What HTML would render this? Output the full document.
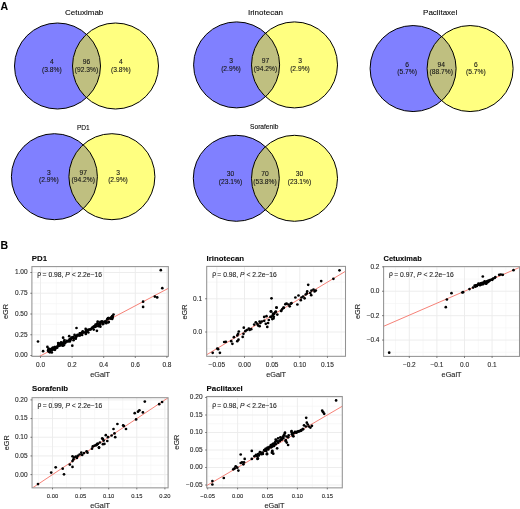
<!DOCTYPE html>
<html><head><meta charset="utf-8"><style>html,body{margin:0;padding:0;background:#fff;overflow:hidden}svg{display:block}</style></head>
<body>
<svg width="520" height="509" viewBox="0 0 520 509" font-family="Liberation Sans, Arial, Helvetica, sans-serif">
<style>text{stroke:#222;stroke-width:0.1px}</style>
<rect width="520" height="509" fill="#fff"/>
<text x="0.5" y="9.7" font-size="10.5" font-weight="bold" fill="#000">A</text>
<text x="0.5" y="249.4" font-size="10.5" font-weight="bold" fill="#000">B</text>
<clipPath id="cb1"><circle cx="57.5" cy="66" r="43"/></clipPath>
<circle cx="57.5" cy="66" r="43" fill="#8080FF"/>
<circle cx="115.5" cy="66" r="43" fill="#FFFF80"/>
<circle cx="115.5" cy="66" r="43" fill="#BFBF80" clip-path="url(#cb1)"/>
<circle cx="57.5" cy="66" r="43" fill="none" stroke="#000" stroke-width="1"/>
<circle cx="115.5" cy="66" r="43" fill="none" stroke="#000" stroke-width="1"/>
<text x="84.2" y="15.4" font-size="8.0" text-anchor="middle" fill="#000">Cetuximab</text>
<text x="51.80" y="64.00" font-size="6.7" text-anchor="middle" fill="#111">4</text>
<text x="51.80" y="71.70" font-size="6.7" text-anchor="middle" fill="#111">(3.8%)</text>
<text x="86.50" y="64.00" font-size="6.7" text-anchor="middle" fill="#111">96</text>
<text x="86.50" y="71.70" font-size="6.7" text-anchor="middle" fill="#111">(92.3%)</text>
<text x="120.80" y="64.00" font-size="6.7" text-anchor="middle" fill="#111">4</text>
<text x="120.80" y="71.70" font-size="6.7" text-anchor="middle" fill="#111">(3.8%)</text>
<clipPath id="cb2"><circle cx="236.6" cy="64.9" r="43"/></clipPath>
<circle cx="236.6" cy="64.9" r="43" fill="#8080FF"/>
<circle cx="294.5" cy="64.9" r="43" fill="#FFFF80"/>
<circle cx="294.5" cy="64.9" r="43" fill="#BFBF80" clip-path="url(#cb2)"/>
<circle cx="236.6" cy="64.9" r="43" fill="none" stroke="#000" stroke-width="1"/>
<circle cx="294.5" cy="64.9" r="43" fill="none" stroke="#000" stroke-width="1"/>
<text x="265.5" y="15.4" font-size="8.0" text-anchor="middle" fill="#000">Irinotecan</text>
<text x="231.00" y="62.90" font-size="6.7" text-anchor="middle" fill="#111">3</text>
<text x="231.00" y="70.60" font-size="6.7" text-anchor="middle" fill="#111">(2.9%)</text>
<text x="265.50" y="62.90" font-size="6.7" text-anchor="middle" fill="#111">97</text>
<text x="265.50" y="70.60" font-size="6.7" text-anchor="middle" fill="#111">(94.2%)</text>
<text x="300.00" y="62.90" font-size="6.7" text-anchor="middle" fill="#111">3</text>
<text x="300.00" y="70.60" font-size="6.7" text-anchor="middle" fill="#111">(2.9%)</text>
<clipPath id="cb3"><circle cx="413.1" cy="68.55" r="43"/></clipPath>
<circle cx="413.1" cy="68.55" r="43" fill="#8080FF"/>
<circle cx="470.1" cy="68.55" r="43" fill="#FFFF80"/>
<circle cx="470.1" cy="68.55" r="43" fill="#BFBF80" clip-path="url(#cb3)"/>
<circle cx="413.1" cy="68.55" r="43" fill="none" stroke="#000" stroke-width="1"/>
<circle cx="470.1" cy="68.55" r="43" fill="none" stroke="#000" stroke-width="1"/>
<text x="440.2" y="15.4" font-size="8.0" text-anchor="middle" fill="#000">Paclitaxel</text>
<text x="407.10" y="66.55" font-size="6.7" text-anchor="middle" fill="#111">6</text>
<text x="407.10" y="74.25" font-size="6.7" text-anchor="middle" fill="#111">(5.7%)</text>
<text x="441.30" y="66.55" font-size="6.7" text-anchor="middle" fill="#111">94</text>
<text x="441.30" y="74.25" font-size="6.7" text-anchor="middle" fill="#111">(88.7%)</text>
<text x="475.80" y="66.55" font-size="6.7" text-anchor="middle" fill="#111">6</text>
<text x="475.80" y="74.25" font-size="6.7" text-anchor="middle" fill="#111">(5.7%)</text>
<clipPath id="cb4"><circle cx="54.4" cy="176.7" r="43"/></clipPath>
<circle cx="54.4" cy="176.7" r="43" fill="#8080FF"/>
<circle cx="111.9" cy="176.7" r="43" fill="#FFFF80"/>
<circle cx="111.9" cy="176.7" r="43" fill="#BFBF80" clip-path="url(#cb4)"/>
<circle cx="54.4" cy="176.7" r="43" fill="none" stroke="#000" stroke-width="1"/>
<circle cx="111.9" cy="176.7" r="43" fill="none" stroke="#000" stroke-width="1"/>
<text x="83.3" y="130.3" font-size="6.6" text-anchor="middle" fill="#000">PD1</text>
<text x="48.80" y="174.70" font-size="6.7" text-anchor="middle" fill="#111">3</text>
<text x="48.80" y="182.40" font-size="6.7" text-anchor="middle" fill="#111">(2.9%)</text>
<text x="83.30" y="174.70" font-size="6.7" text-anchor="middle" fill="#111">97</text>
<text x="83.30" y="182.40" font-size="6.7" text-anchor="middle" fill="#111">(94.2%)</text>
<text x="118.00" y="174.70" font-size="6.7" text-anchor="middle" fill="#111">3</text>
<text x="118.00" y="182.40" font-size="6.7" text-anchor="middle" fill="#111">(2.9%)</text>
<clipPath id="cb5"><circle cx="236.3" cy="178.3" r="43"/></clipPath>
<circle cx="236.3" cy="178.3" r="43" fill="#8080FF"/>
<circle cx="294.5" cy="178.3" r="43" fill="#FFFF80"/>
<circle cx="294.5" cy="178.3" r="43" fill="#BFBF80" clip-path="url(#cb5)"/>
<circle cx="236.3" cy="178.3" r="43" fill="none" stroke="#000" stroke-width="1"/>
<circle cx="294.5" cy="178.3" r="43" fill="none" stroke="#000" stroke-width="1"/>
<text x="264.2" y="129.0" font-size="6.6" text-anchor="middle" fill="#000">Sorafenib</text>
<text x="230.50" y="176.30" font-size="6.7" text-anchor="middle" fill="#111">30</text>
<text x="230.50" y="184.00" font-size="6.7" text-anchor="middle" fill="#111">(23.1%)</text>
<text x="265.00" y="176.30" font-size="6.7" text-anchor="middle" fill="#111">70</text>
<text x="265.00" y="184.00" font-size="6.7" text-anchor="middle" fill="#111">(53.8%)</text>
<text x="299.50" y="176.30" font-size="6.7" text-anchor="middle" fill="#111">30</text>
<text x="299.50" y="184.00" font-size="6.7" text-anchor="middle" fill="#111">(23.1%)</text>
<clipPath id="pPD1"><rect x="31.9" y="266.6" width="136.45" height="89.79999999999995"/></clipPath>
<g clip-path="url(#pPD1)">
<line x1="56.30" y1="266.6" x2="56.30" y2="356.4" stroke="#F4F4F4" stroke-width="0.6"/>
<line x1="87.90" y1="266.6" x2="87.90" y2="356.4" stroke="#F4F4F4" stroke-width="0.6"/>
<line x1="119.50" y1="266.6" x2="119.50" y2="356.4" stroke="#F4F4F4" stroke-width="0.6"/>
<line x1="151.10" y1="266.6" x2="151.10" y2="356.4" stroke="#F4F4F4" stroke-width="0.6"/>
<line x1="31.9" y1="345.12" x2="168.35" y2="345.12" stroke="#F4F4F4" stroke-width="0.6"/>
<line x1="31.9" y1="324.38" x2="168.35" y2="324.38" stroke="#F4F4F4" stroke-width="0.6"/>
<line x1="31.9" y1="303.62" x2="168.35" y2="303.62" stroke="#F4F4F4" stroke-width="0.6"/>
<line x1="31.9" y1="282.88" x2="168.35" y2="282.88" stroke="#F4F4F4" stroke-width="0.6"/>
<line x1="40.50" y1="266.6" x2="40.50" y2="356.4" stroke="#EBEBEB" stroke-width="0.9"/>
<line x1="72.10" y1="266.6" x2="72.10" y2="356.4" stroke="#EBEBEB" stroke-width="0.9"/>
<line x1="103.70" y1="266.6" x2="103.70" y2="356.4" stroke="#EBEBEB" stroke-width="0.9"/>
<line x1="135.30" y1="266.6" x2="135.30" y2="356.4" stroke="#EBEBEB" stroke-width="0.9"/>
<line x1="166.90" y1="266.6" x2="166.90" y2="356.4" stroke="#EBEBEB" stroke-width="0.9"/>
<line x1="31.9" y1="355.50" x2="168.35" y2="355.50" stroke="#EBEBEB" stroke-width="0.9"/>
<line x1="31.9" y1="334.75" x2="168.35" y2="334.75" stroke="#EBEBEB" stroke-width="0.9"/>
<line x1="31.9" y1="314.00" x2="168.35" y2="314.00" stroke="#EBEBEB" stroke-width="0.9"/>
<line x1="31.9" y1="293.25" x2="168.35" y2="293.25" stroke="#EBEBEB" stroke-width="0.9"/>
<line x1="31.9" y1="272.50" x2="168.35" y2="272.50" stroke="#EBEBEB" stroke-width="0.9"/>
<line x1="26.9" y1="363.01" x2="173.35" y2="285.69" stroke="#F47A70" stroke-width="0.95"/>
<circle cx="38.00" cy="341.50" r="1.35" fill="#000"/>
<circle cx="43.10" cy="351.20" r="1.35" fill="#000"/>
<circle cx="47.40" cy="346.90" r="1.35" fill="#000"/>
<circle cx="72.30" cy="345.70" r="1.35" fill="#000"/>
<circle cx="76.50" cy="328.00" r="1.35" fill="#000"/>
<circle cx="63.10" cy="337.70" r="1.35" fill="#000"/>
<circle cx="69.20" cy="336.20" r="1.35" fill="#000"/>
<circle cx="58.20" cy="343.10" r="1.35" fill="#000"/>
<circle cx="96.90" cy="330.80" r="1.35" fill="#000"/>
<circle cx="108.50" cy="322.30" r="1.35" fill="#000"/>
<circle cx="97.70" cy="321.50" r="1.35" fill="#000"/>
<circle cx="160.80" cy="270.20" r="1.35" fill="#000"/>
<circle cx="162.30" cy="288.20" r="1.35" fill="#000"/>
<circle cx="143.10" cy="301.70" r="1.35" fill="#000"/>
<circle cx="143.10" cy="306.90" r="1.35" fill="#000"/>
<circle cx="154.90" cy="296.60" r="1.35" fill="#000"/>
<circle cx="157.20" cy="297.40" r="1.35" fill="#000"/>
<circle cx="113.50" cy="314.60" r="1.35" fill="#000"/>
<circle cx="112.30" cy="316.20" r="1.35" fill="#000"/>
<circle cx="57.19" cy="347.64" r="1.35" fill="#000"/>
<circle cx="63.99" cy="341.45" r="1.35" fill="#000"/>
<circle cx="79.78" cy="333.28" r="1.35" fill="#000"/>
<circle cx="99.74" cy="324.73" r="1.35" fill="#000"/>
<circle cx="54.95" cy="349.80" r="1.35" fill="#000"/>
<circle cx="76.38" cy="336.81" r="1.35" fill="#000"/>
<circle cx="98.36" cy="326.24" r="1.35" fill="#000"/>
<circle cx="95.24" cy="326.87" r="1.35" fill="#000"/>
<circle cx="63.80" cy="345.23" r="1.35" fill="#000"/>
<circle cx="49.67" cy="349.83" r="1.35" fill="#000"/>
<circle cx="48.63" cy="348.70" r="1.35" fill="#000"/>
<circle cx="72.57" cy="337.72" r="1.35" fill="#000"/>
<circle cx="62.01" cy="343.78" r="1.35" fill="#000"/>
<circle cx="62.49" cy="343.87" r="1.35" fill="#000"/>
<circle cx="76.26" cy="335.74" r="1.35" fill="#000"/>
<circle cx="63.04" cy="343.47" r="1.35" fill="#000"/>
<circle cx="61.89" cy="343.21" r="1.35" fill="#000"/>
<circle cx="49.49" cy="350.93" r="1.35" fill="#000"/>
<circle cx="102.00" cy="321.44" r="1.35" fill="#000"/>
<circle cx="59.88" cy="344.61" r="1.35" fill="#000"/>
<circle cx="112.68" cy="317.04" r="1.35" fill="#000"/>
<circle cx="69.49" cy="339.58" r="1.35" fill="#000"/>
<circle cx="94.96" cy="326.40" r="1.35" fill="#000"/>
<circle cx="74.56" cy="334.94" r="1.35" fill="#000"/>
<circle cx="101.96" cy="322.49" r="1.35" fill="#000"/>
<circle cx="86.13" cy="330.76" r="1.35" fill="#000"/>
<circle cx="105.83" cy="321.43" r="1.35" fill="#000"/>
<circle cx="86.13" cy="330.52" r="1.35" fill="#000"/>
<circle cx="50.28" cy="350.37" r="1.35" fill="#000"/>
<circle cx="75.78" cy="338.65" r="1.35" fill="#000"/>
<circle cx="58.60" cy="344.23" r="1.35" fill="#000"/>
<circle cx="91.98" cy="328.11" r="1.35" fill="#000"/>
<circle cx="71.93" cy="337.51" r="1.35" fill="#000"/>
<circle cx="99.08" cy="325.11" r="1.35" fill="#000"/>
<circle cx="81.66" cy="332.83" r="1.35" fill="#000"/>
<circle cx="50.25" cy="351.07" r="1.35" fill="#000"/>
<circle cx="50.46" cy="349.29" r="1.35" fill="#000"/>
<circle cx="85.65" cy="328.88" r="1.35" fill="#000"/>
<circle cx="73.89" cy="338.30" r="1.35" fill="#000"/>
<circle cx="112.35" cy="318.02" r="1.35" fill="#000"/>
<circle cx="97.44" cy="323.46" r="1.35" fill="#000"/>
<circle cx="62.90" cy="343.00" r="1.35" fill="#000"/>
<circle cx="82.11" cy="334.91" r="1.35" fill="#000"/>
<circle cx="77.81" cy="335.32" r="1.35" fill="#000"/>
<circle cx="64.46" cy="340.11" r="1.35" fill="#000"/>
<circle cx="48.04" cy="350.68" r="1.35" fill="#000"/>
<circle cx="99.63" cy="325.28" r="1.35" fill="#000"/>
<circle cx="95.55" cy="324.61" r="1.35" fill="#000"/>
<circle cx="100.22" cy="322.56" r="1.35" fill="#000"/>
<circle cx="75.73" cy="336.62" r="1.35" fill="#000"/>
<circle cx="52.05" cy="350.29" r="1.35" fill="#000"/>
<circle cx="60.59" cy="343.75" r="1.35" fill="#000"/>
<circle cx="80.58" cy="333.35" r="1.35" fill="#000"/>
<circle cx="70.57" cy="339.52" r="1.35" fill="#000"/>
<circle cx="82.79" cy="332.19" r="1.35" fill="#000"/>
<circle cx="77.50" cy="334.87" r="1.35" fill="#000"/>
<circle cx="49.86" cy="350.59" r="1.35" fill="#000"/>
<circle cx="86.51" cy="332.02" r="1.35" fill="#000"/>
<circle cx="104.39" cy="322.11" r="1.35" fill="#000"/>
<circle cx="100.48" cy="321.93" r="1.35" fill="#000"/>
<circle cx="64.99" cy="343.29" r="1.35" fill="#000"/>
<circle cx="52.86" cy="347.55" r="1.35" fill="#000"/>
<circle cx="49.84" cy="352.32" r="1.35" fill="#000"/>
<circle cx="64.32" cy="342.94" r="1.35" fill="#000"/>
<circle cx="54.84" cy="347.14" r="1.35" fill="#000"/>
<circle cx="52.24" cy="348.53" r="1.35" fill="#000"/>
<circle cx="58.13" cy="345.44" r="1.35" fill="#000"/>
<circle cx="65.72" cy="341.91" r="1.35" fill="#000"/>
<circle cx="94.20" cy="326.54" r="1.35" fill="#000"/>
<circle cx="79.04" cy="335.38" r="1.35" fill="#000"/>
<circle cx="49.18" cy="350.01" r="1.35" fill="#000"/>
<circle cx="60.55" cy="345.52" r="1.35" fill="#000"/>
<circle cx="55.51" cy="348.52" r="1.35" fill="#000"/>
<circle cx="61.30" cy="343.63" r="1.35" fill="#000"/>
<circle cx="87.68" cy="330.87" r="1.35" fill="#000"/>
<circle cx="49.08" cy="350.72" r="1.35" fill="#000"/>
<circle cx="57.49" cy="346.30" r="1.35" fill="#000"/>
<circle cx="93.88" cy="327.02" r="1.35" fill="#000"/>
<circle cx="92.14" cy="327.81" r="1.35" fill="#000"/>
<circle cx="111.35" cy="317.25" r="1.35" fill="#000"/>
<circle cx="99.76" cy="323.44" r="1.35" fill="#000"/>
<circle cx="90.44" cy="329.31" r="1.35" fill="#000"/>
<circle cx="73.40" cy="337.12" r="1.35" fill="#000"/>
<circle cx="89.14" cy="329.61" r="1.35" fill="#000"/>
<circle cx="51.47" cy="348.79" r="1.35" fill="#000"/>
<circle cx="106.26" cy="323.18" r="1.35" fill="#000"/>
<circle cx="68.19" cy="341.28" r="1.35" fill="#000"/>
<circle cx="108.81" cy="318.21" r="1.35" fill="#000"/>
<circle cx="96.34" cy="325.49" r="1.35" fill="#000"/>
<circle cx="48.72" cy="351.53" r="1.35" fill="#000"/>
<circle cx="106.12" cy="322.49" r="1.35" fill="#000"/>
<circle cx="110.80" cy="318.26" r="1.35" fill="#000"/>
<circle cx="85.71" cy="332.78" r="1.35" fill="#000"/>
<circle cx="112.18" cy="318.93" r="1.35" fill="#000"/>
<circle cx="93.65" cy="326.71" r="1.35" fill="#000"/>
<circle cx="70.57" cy="339.37" r="1.35" fill="#000"/>
<circle cx="61.18" cy="343.92" r="1.35" fill="#000"/>
<circle cx="60.22" cy="343.95" r="1.35" fill="#000"/>
<circle cx="54.61" cy="347.51" r="1.35" fill="#000"/>
<circle cx="80.35" cy="333.69" r="1.35" fill="#000"/>
<circle cx="69.85" cy="341.41" r="1.35" fill="#000"/>
<circle cx="48.48" cy="349.57" r="1.35" fill="#000"/>
<circle cx="60.46" cy="343.34" r="1.35" fill="#000"/>
<circle cx="100.39" cy="326.72" r="1.35" fill="#000"/>
<circle cx="70.23" cy="339.98" r="1.35" fill="#000"/>
<circle cx="103.35" cy="323.74" r="1.35" fill="#000"/>
<circle cx="108.12" cy="318.08" r="1.35" fill="#000"/>
<circle cx="93.75" cy="329.55" r="1.35" fill="#000"/>
<circle cx="79.96" cy="335.43" r="1.35" fill="#000"/>
<circle cx="95.46" cy="326.66" r="1.35" fill="#000"/>
<circle cx="53.99" cy="349.44" r="1.35" fill="#000"/>
<circle cx="62.73" cy="345.69" r="1.35" fill="#000"/>
<circle cx="96.89" cy="324.19" r="1.35" fill="#000"/>
<circle cx="71.46" cy="337.73" r="1.35" fill="#000"/>
<circle cx="69.93" cy="339.21" r="1.35" fill="#000"/>
<circle cx="88.36" cy="332.50" r="1.35" fill="#000"/>
<circle cx="110.28" cy="318.54" r="1.35" fill="#000"/>
<circle cx="83.90" cy="332.30" r="1.35" fill="#000"/>
<circle cx="54.96" cy="348.18" r="1.35" fill="#000"/>
<circle cx="104.51" cy="321.56" r="1.35" fill="#000"/>
<circle cx="99.69" cy="324.74" r="1.35" fill="#000"/>
<circle cx="87.93" cy="329.80" r="1.35" fill="#000"/>
<circle cx="98.64" cy="323.85" r="1.35" fill="#000"/>
<circle cx="62.97" cy="344.46" r="1.35" fill="#000"/>
<circle cx="53.22" cy="348.47" r="1.35" fill="#000"/>
<circle cx="85.81" cy="333.94" r="1.35" fill="#000"/>
<circle cx="107.85" cy="318.65" r="1.35" fill="#000"/>
<circle cx="99.52" cy="324.60" r="1.35" fill="#000"/>
<circle cx="102.72" cy="324.13" r="1.35" fill="#000"/>
<circle cx="54.02" cy="348.40" r="1.35" fill="#000"/>
<circle cx="55.59" cy="347.67" r="1.35" fill="#000"/>
<circle cx="63.52" cy="342.99" r="1.35" fill="#000"/>
<circle cx="112.04" cy="316.58" r="1.35" fill="#000"/>
<circle cx="59.00" cy="345.87" r="1.35" fill="#000"/>
<circle cx="63.71" cy="343.08" r="1.35" fill="#000"/>
<circle cx="107.09" cy="319.44" r="1.35" fill="#000"/>
<circle cx="73.55" cy="340.16" r="1.35" fill="#000"/>
<circle cx="66.96" cy="340.92" r="1.35" fill="#000"/>
<circle cx="64.30" cy="342.29" r="1.35" fill="#000"/>
<circle cx="90.73" cy="329.31" r="1.35" fill="#000"/>
<circle cx="51.85" cy="352.50" r="1.35" fill="#000"/>
<circle cx="67.33" cy="341.36" r="1.35" fill="#000"/>
<circle cx="86.69" cy="330.40" r="1.35" fill="#000"/>
<circle cx="52.22" cy="349.53" r="1.35" fill="#000"/>
<circle cx="108.72" cy="321.85" r="1.35" fill="#000"/>
<circle cx="55.03" cy="347.20" r="1.35" fill="#000"/>
<circle cx="61.09" cy="342.27" r="1.35" fill="#000"/>
<circle cx="82.70" cy="331.27" r="1.35" fill="#000"/>
<circle cx="92.91" cy="327.71" r="1.35" fill="#000"/>
<circle cx="83.13" cy="332.36" r="1.35" fill="#000"/>
</g>
<rect x="31.9" y="266.6" width="136.45" height="89.79999999999995" fill="none" stroke="#939393" stroke-width="1.05"/>
<line x1="40.50" y1="356.4" x2="40.50" y2="358.0" stroke="#333" stroke-width="0.6"/>
<text x="40.50" y="367.20" font-size="6.5" text-anchor="middle" fill="#262626">0.0</text>
<line x1="72.10" y1="356.4" x2="72.10" y2="358.0" stroke="#333" stroke-width="0.6"/>
<text x="72.10" y="367.20" font-size="6.5" text-anchor="middle" fill="#262626">0.2</text>
<line x1="103.70" y1="356.4" x2="103.70" y2="358.0" stroke="#333" stroke-width="0.6"/>
<text x="103.70" y="367.20" font-size="6.5" text-anchor="middle" fill="#262626">0.4</text>
<line x1="135.30" y1="356.4" x2="135.30" y2="358.0" stroke="#333" stroke-width="0.6"/>
<text x="135.30" y="367.20" font-size="6.5" text-anchor="middle" fill="#262626">0.6</text>
<line x1="166.90" y1="356.4" x2="166.90" y2="358.0" stroke="#333" stroke-width="0.6"/>
<text x="166.90" y="367.20" font-size="6.5" text-anchor="middle" fill="#262626">0.8</text>
<line x1="30.299999999999997" y1="355.50" x2="31.9" y2="355.50" stroke="#333" stroke-width="0.6"/>
<text x="27.60" y="357.40" font-size="6.5" text-anchor="end" fill="#262626">0.00</text>
<line x1="30.299999999999997" y1="334.75" x2="31.9" y2="334.75" stroke="#333" stroke-width="0.6"/>
<text x="27.60" y="336.65" font-size="6.5" text-anchor="end" fill="#262626">0.25</text>
<line x1="30.299999999999997" y1="314.00" x2="31.9" y2="314.00" stroke="#333" stroke-width="0.6"/>
<text x="27.60" y="315.90" font-size="6.5" text-anchor="end" fill="#262626">0.50</text>
<line x1="30.299999999999997" y1="293.25" x2="31.9" y2="293.25" stroke="#333" stroke-width="0.6"/>
<text x="27.60" y="295.15" font-size="6.5" text-anchor="end" fill="#262626">0.75</text>
<line x1="30.299999999999997" y1="272.50" x2="31.9" y2="272.50" stroke="#333" stroke-width="0.6"/>
<text x="27.60" y="274.40" font-size="6.5" text-anchor="end" fill="#262626">1.00</text>
<text x="100.12" y="376.80" font-size="7.3" text-anchor="middle" fill="#1a1a1a">eGalT</text>
<text transform="translate(8.4,311.50) rotate(-90)" font-size="7.3" text-anchor="middle" fill="#1a1a1a">eGR</text>
<text x="31.799999999999997" y="260.5" font-size="7.85" font-weight="bold" fill="#000">PD1</text>
<text x="36.15" y="277.3" font-size="6.75" fill="#1a1a1a"><tspan dx="1.2" dy="-1.1">ρ</tspan><tspan dx="-0.5" dy="1.1"> = 0.98, </tspan><tspan font-style="italic">P</tspan> &lt; 2.2e−16</text>
<clipPath id="pIrinotecan"><rect x="206.7" y="266.4" width="138.8" height="89.90000000000003"/></clipPath>
<g clip-path="url(#pIrinotecan)">
<line x1="203.03" y1="266.4" x2="203.03" y2="356.3" stroke="#F4F4F4" stroke-width="0.6"/>
<line x1="230.68" y1="266.4" x2="230.68" y2="356.3" stroke="#F4F4F4" stroke-width="0.6"/>
<line x1="258.32" y1="266.4" x2="258.32" y2="356.3" stroke="#F4F4F4" stroke-width="0.6"/>
<line x1="285.98" y1="266.4" x2="285.98" y2="356.3" stroke="#F4F4F4" stroke-width="0.6"/>
<line x1="313.62" y1="266.4" x2="313.62" y2="356.3" stroke="#F4F4F4" stroke-width="0.6"/>
<line x1="341.27" y1="266.4" x2="341.27" y2="356.3" stroke="#F4F4F4" stroke-width="0.6"/>
<line x1="206.7" y1="348.62" x2="345.5" y2="348.62" stroke="#F4F4F4" stroke-width="0.6"/>
<line x1="206.7" y1="315.38" x2="345.5" y2="315.38" stroke="#F4F4F4" stroke-width="0.6"/>
<line x1="206.7" y1="282.12" x2="345.5" y2="282.12" stroke="#F4F4F4" stroke-width="0.6"/>
<line x1="216.85" y1="266.4" x2="216.85" y2="356.3" stroke="#EBEBEB" stroke-width="0.9"/>
<line x1="244.50" y1="266.4" x2="244.50" y2="356.3" stroke="#EBEBEB" stroke-width="0.9"/>
<line x1="272.15" y1="266.4" x2="272.15" y2="356.3" stroke="#EBEBEB" stroke-width="0.9"/>
<line x1="299.80" y1="266.4" x2="299.80" y2="356.3" stroke="#EBEBEB" stroke-width="0.9"/>
<line x1="327.45" y1="266.4" x2="327.45" y2="356.3" stroke="#EBEBEB" stroke-width="0.9"/>
<line x1="206.7" y1="332.00" x2="345.5" y2="332.00" stroke="#EBEBEB" stroke-width="0.9"/>
<line x1="206.7" y1="298.75" x2="345.5" y2="298.75" stroke="#EBEBEB" stroke-width="0.9"/>
<line x1="201.7" y1="357.73" x2="350.5" y2="268.27" stroke="#F47A70" stroke-width="0.95"/>
<circle cx="212.70" cy="352.80" r="1.35" fill="#000"/>
<circle cx="217.30" cy="348.50" r="1.35" fill="#000"/>
<circle cx="218.10" cy="349.20" r="1.35" fill="#000"/>
<circle cx="219.90" cy="352.80" r="1.35" fill="#000"/>
<circle cx="224.20" cy="342.00" r="1.35" fill="#000"/>
<circle cx="225.80" cy="341.80" r="1.35" fill="#000"/>
<circle cx="231.20" cy="341.20" r="1.35" fill="#000"/>
<circle cx="232.40" cy="343.80" r="1.35" fill="#000"/>
<circle cx="233.90" cy="337.20" r="1.35" fill="#000"/>
<circle cx="237.30" cy="335.40" r="1.35" fill="#000"/>
<circle cx="238.10" cy="333.80" r="1.35" fill="#000"/>
<circle cx="238.80" cy="331.50" r="1.35" fill="#000"/>
<circle cx="237.30" cy="341.20" r="1.35" fill="#000"/>
<circle cx="238.50" cy="339.70" r="1.35" fill="#000"/>
<circle cx="242.70" cy="336.90" r="1.35" fill="#000"/>
<circle cx="243.50" cy="333.80" r="1.35" fill="#000"/>
<circle cx="243.80" cy="327.70" r="1.35" fill="#000"/>
<circle cx="245.30" cy="331.20" r="1.35" fill="#000"/>
<circle cx="246.80" cy="330.00" r="1.35" fill="#000"/>
<circle cx="248.80" cy="328.50" r="1.35" fill="#000"/>
<circle cx="249.60" cy="330.00" r="1.35" fill="#000"/>
<circle cx="251.20" cy="329.20" r="1.35" fill="#000"/>
<circle cx="254.20" cy="324.60" r="1.35" fill="#000"/>
<circle cx="255.80" cy="322.30" r="1.35" fill="#000"/>
<circle cx="257.30" cy="323.80" r="1.35" fill="#000"/>
<circle cx="258.10" cy="325.40" r="1.35" fill="#000"/>
<circle cx="259.60" cy="321.50" r="1.35" fill="#000"/>
<circle cx="260.40" cy="323.00" r="1.35" fill="#000"/>
<circle cx="259.60" cy="326.20" r="1.35" fill="#000"/>
<circle cx="261.90" cy="321.50" r="1.35" fill="#000"/>
<circle cx="264.20" cy="320.80" r="1.35" fill="#000"/>
<circle cx="264.20" cy="316.90" r="1.35" fill="#000"/>
<circle cx="266.50" cy="316.20" r="1.35" fill="#000"/>
<circle cx="265.80" cy="323.80" r="1.35" fill="#000"/>
<circle cx="268.10" cy="323.00" r="1.35" fill="#000"/>
<circle cx="267.30" cy="326.90" r="1.35" fill="#000"/>
<circle cx="268.80" cy="320.00" r="1.35" fill="#000"/>
<circle cx="270.40" cy="316.90" r="1.35" fill="#000"/>
<circle cx="271.20" cy="311.50" r="1.35" fill="#000"/>
<circle cx="272.70" cy="315.40" r="1.35" fill="#000"/>
<circle cx="273.50" cy="318.50" r="1.35" fill="#000"/>
<circle cx="274.20" cy="313.80" r="1.35" fill="#000"/>
<circle cx="275.80" cy="311.50" r="1.35" fill="#000"/>
<circle cx="276.50" cy="307.70" r="1.35" fill="#000"/>
<circle cx="277.30" cy="314.60" r="1.35" fill="#000"/>
<circle cx="281.20" cy="310.80" r="1.35" fill="#000"/>
<circle cx="283.50" cy="307.70" r="1.35" fill="#000"/>
<circle cx="339.50" cy="270.30" r="1.35" fill="#000"/>
<circle cx="333.40" cy="278.80" r="1.35" fill="#000"/>
<circle cx="321.20" cy="281.10" r="1.35" fill="#000"/>
<circle cx="308.20" cy="284.80" r="1.35" fill="#000"/>
<circle cx="271.50" cy="298.30" r="1.35" fill="#000"/>
<circle cx="295.40" cy="297.50" r="1.35" fill="#000"/>
<circle cx="298.50" cy="295.50" r="1.35" fill="#000"/>
<circle cx="297.40" cy="304.50" r="1.35" fill="#000"/>
<circle cx="300.80" cy="300.20" r="1.35" fill="#000"/>
<circle cx="301.50" cy="297.50" r="1.35" fill="#000"/>
<circle cx="303.10" cy="296.50" r="1.35" fill="#000"/>
<circle cx="304.60" cy="298.30" r="1.35" fill="#000"/>
<circle cx="305.70" cy="294.50" r="1.35" fill="#000"/>
<circle cx="306.90" cy="293.40" r="1.35" fill="#000"/>
<circle cx="307.20" cy="291.40" r="1.35" fill="#000"/>
<circle cx="310.30" cy="292.90" r="1.35" fill="#000"/>
<circle cx="311.20" cy="295.20" r="1.35" fill="#000"/>
<circle cx="311.50" cy="290.60" r="1.35" fill="#000"/>
<circle cx="313.50" cy="289.50" r="1.35" fill="#000"/>
<circle cx="314.60" cy="291.40" r="1.35" fill="#000"/>
<circle cx="315.80" cy="290.60" r="1.35" fill="#000"/>
<circle cx="285.40" cy="304.20" r="1.35" fill="#000"/>
<circle cx="286.60" cy="303.70" r="1.35" fill="#000"/>
<circle cx="288.50" cy="304.50" r="1.35" fill="#000"/>
<circle cx="289.70" cy="306.30" r="1.35" fill="#000"/>
<circle cx="290.80" cy="303.70" r="1.35" fill="#000"/>
<circle cx="291.50" cy="303.20" r="1.35" fill="#000"/>
<circle cx="283.80" cy="307.80" r="1.35" fill="#000"/>
<circle cx="282.30" cy="309.10" r="1.35" fill="#000"/>
<circle cx="281.10" cy="310.90" r="1.35" fill="#000"/>
<circle cx="276.50" cy="307.50" r="1.35" fill="#000"/>
<circle cx="275.40" cy="312.20" r="1.35" fill="#000"/>
<circle cx="273.10" cy="313.70" r="1.35" fill="#000"/>
<circle cx="271.50" cy="316.80" r="1.35" fill="#000"/>
<circle cx="270.80" cy="311.40" r="1.35" fill="#000"/>
<circle cx="272.30" cy="319.10" r="1.35" fill="#000"/>
<circle cx="273.80" cy="316.80" r="1.35" fill="#000"/>
</g>
<rect x="206.7" y="266.4" width="138.8" height="89.90000000000003" fill="none" stroke="#939393" stroke-width="1.05"/>
<line x1="216.85" y1="356.3" x2="216.85" y2="357.90000000000003" stroke="#333" stroke-width="0.6"/>
<text x="216.85" y="367.10" font-size="6.5" text-anchor="middle" fill="#262626">−0.05</text>
<line x1="244.50" y1="356.3" x2="244.50" y2="357.90000000000003" stroke="#333" stroke-width="0.6"/>
<text x="244.50" y="367.10" font-size="6.5" text-anchor="middle" fill="#262626">0.00</text>
<line x1="272.15" y1="356.3" x2="272.15" y2="357.90000000000003" stroke="#333" stroke-width="0.6"/>
<text x="272.15" y="367.10" font-size="6.5" text-anchor="middle" fill="#262626">0.05</text>
<line x1="299.80" y1="356.3" x2="299.80" y2="357.90000000000003" stroke="#333" stroke-width="0.6"/>
<text x="299.80" y="367.10" font-size="6.5" text-anchor="middle" fill="#262626">0.10</text>
<line x1="327.45" y1="356.3" x2="327.45" y2="357.90000000000003" stroke="#333" stroke-width="0.6"/>
<text x="327.45" y="367.10" font-size="6.5" text-anchor="middle" fill="#262626">0.15</text>
<line x1="205.1" y1="332.00" x2="206.7" y2="332.00" stroke="#333" stroke-width="0.6"/>
<text x="202.10" y="333.90" font-size="6.5" text-anchor="end" fill="#262626">0.0</text>
<line x1="205.1" y1="298.75" x2="206.7" y2="298.75" stroke="#333" stroke-width="0.6"/>
<text x="202.10" y="300.65" font-size="6.5" text-anchor="end" fill="#262626">0.1</text>
<text x="276.10" y="376.70" font-size="7.3" text-anchor="middle" fill="#1a1a1a">eGalT</text>
<text transform="translate(187.0,311.95) rotate(-90)" font-size="7.3" text-anchor="middle" fill="#1a1a1a">eGR</text>
<text x="206.6" y="260.5" font-size="7.85" font-weight="bold" fill="#000">Irinotecan</text>
<text x="210.95" y="277.3" font-size="6.75" fill="#1a1a1a"><tspan dx="1.2" dy="-1.1">ρ</tspan><tspan dx="-0.5" dy="1.1"> = 0.98, </tspan><tspan font-style="italic">P</tspan> &lt; 2.2e−16</text>
<clipPath id="pCetuximab"><rect x="383.6" y="266.6" width="135.89999999999998" height="89.79999999999995"/></clipPath>
<g clip-path="url(#pCetuximab)">
<line x1="395.50" y1="266.6" x2="395.50" y2="356.4" stroke="#F4F4F4" stroke-width="0.6"/>
<line x1="423.10" y1="266.6" x2="423.10" y2="356.4" stroke="#F4F4F4" stroke-width="0.6"/>
<line x1="450.70" y1="266.6" x2="450.70" y2="356.4" stroke="#F4F4F4" stroke-width="0.6"/>
<line x1="478.30" y1="266.6" x2="478.30" y2="356.4" stroke="#F4F4F4" stroke-width="0.6"/>
<line x1="505.90" y1="266.6" x2="505.90" y2="356.4" stroke="#F4F4F4" stroke-width="0.6"/>
<line x1="383.6" y1="352.25" x2="519.5" y2="352.25" stroke="#F4F4F4" stroke-width="0.6"/>
<line x1="383.6" y1="327.85" x2="519.5" y2="327.85" stroke="#F4F4F4" stroke-width="0.6"/>
<line x1="383.6" y1="303.45" x2="519.5" y2="303.45" stroke="#F4F4F4" stroke-width="0.6"/>
<line x1="383.6" y1="279.05" x2="519.5" y2="279.05" stroke="#F4F4F4" stroke-width="0.6"/>
<line x1="409.30" y1="266.6" x2="409.30" y2="356.4" stroke="#EBEBEB" stroke-width="0.9"/>
<line x1="436.90" y1="266.6" x2="436.90" y2="356.4" stroke="#EBEBEB" stroke-width="0.9"/>
<line x1="464.50" y1="266.6" x2="464.50" y2="356.4" stroke="#EBEBEB" stroke-width="0.9"/>
<line x1="492.10" y1="266.6" x2="492.10" y2="356.4" stroke="#EBEBEB" stroke-width="0.9"/>
<line x1="383.6" y1="340.05" x2="519.5" y2="340.05" stroke="#EBEBEB" stroke-width="0.9"/>
<line x1="383.6" y1="315.65" x2="519.5" y2="315.65" stroke="#EBEBEB" stroke-width="0.9"/>
<line x1="383.6" y1="291.25" x2="519.5" y2="291.25" stroke="#EBEBEB" stroke-width="0.9"/>
<line x1="383.6" y1="266.85" x2="519.5" y2="266.85" stroke="#EBEBEB" stroke-width="0.9"/>
<line x1="378.6" y1="328.46" x2="524.5" y2="265.26" stroke="#F47A70" stroke-width="0.95"/>
<circle cx="513.50" cy="270.20" r="1.35" fill="#000"/>
<circle cx="499.20" cy="274.80" r="1.35" fill="#000"/>
<circle cx="500.80" cy="274.50" r="1.35" fill="#000"/>
<circle cx="502.80" cy="274.80" r="1.35" fill="#000"/>
<circle cx="482.80" cy="276.50" r="1.35" fill="#000"/>
<circle cx="462.30" cy="292.50" r="1.35" fill="#000"/>
<circle cx="463.10" cy="292.20" r="1.35" fill="#000"/>
<circle cx="451.50" cy="293.20" r="1.35" fill="#000"/>
<circle cx="446.90" cy="299.50" r="1.35" fill="#000"/>
<circle cx="445.80" cy="307.20" r="1.35" fill="#000"/>
<circle cx="469.50" cy="289.10" r="1.35" fill="#000"/>
<circle cx="389.20" cy="352.70" r="1.35" fill="#000"/>
<circle cx="473.08" cy="287.54" r="1.35" fill="#000"/>
<circle cx="474.62" cy="285.69" r="1.35" fill="#000"/>
<circle cx="476.15" cy="285.23" r="1.35" fill="#000"/>
<circle cx="477.69" cy="284.77" r="1.35" fill="#000"/>
<circle cx="479.23" cy="284.15" r="1.35" fill="#000"/>
<circle cx="480.77" cy="283.23" r="1.35" fill="#000"/>
<circle cx="482.31" cy="282.92" r="1.35" fill="#000"/>
<circle cx="483.85" cy="282.62" r="1.35" fill="#000"/>
<circle cx="485.38" cy="282.15" r="1.35" fill="#000"/>
<circle cx="486.92" cy="281.38" r="1.35" fill="#000"/>
<circle cx="488.46" cy="280.62" r="1.35" fill="#000"/>
<circle cx="490.00" cy="280.15" r="1.35" fill="#000"/>
<circle cx="491.54" cy="279.54" r="1.35" fill="#000"/>
<circle cx="493.08" cy="278.62" r="1.35" fill="#000"/>
<circle cx="494.62" cy="278.00" r="1.35" fill="#000"/>
<circle cx="495.38" cy="277.08" r="1.35" fill="#000"/>
<circle cx="476.92" cy="286.00" r="1.35" fill="#000"/>
<circle cx="480.00" cy="285.23" r="1.35" fill="#000"/>
<circle cx="483.08" cy="284.15" r="1.35" fill="#000"/>
<circle cx="486.15" cy="283.23" r="1.35" fill="#000"/>
<circle cx="484.62" cy="281.38" r="1.35" fill="#000"/>
<circle cx="487.69" cy="282.15" r="1.35" fill="#000"/>
<circle cx="481.54" cy="284.46" r="1.35" fill="#000"/>
<circle cx="478.46" cy="283.69" r="1.35" fill="#000"/>
<circle cx="475.38" cy="286.77" r="1.35" fill="#000"/>
<circle cx="489.23" cy="281.08" r="1.35" fill="#000"/>
<circle cx="492.31" cy="279.85" r="1.35" fill="#000"/>
<circle cx="486.15" cy="283.69" r="1.35" fill="#000"/>
<circle cx="480.31" cy="284.15" r="1.35" fill="#000"/>
<circle cx="483.38" cy="283.23" r="1.35" fill="#000"/>
<circle cx="484.92" cy="282.92" r="1.35" fill="#000"/>
<circle cx="481.85" cy="283.85" r="1.35" fill="#000"/>
<circle cx="478.77" cy="284.77" r="1.35" fill="#000"/>
<circle cx="488.00" cy="281.38" r="1.35" fill="#000"/>
<circle cx="475.69" cy="285.69" r="1.35" fill="#000"/>
</g>
<rect x="383.6" y="266.6" width="135.89999999999998" height="89.79999999999995" fill="none" stroke="#939393" stroke-width="1.05"/>
<line x1="409.30" y1="356.4" x2="409.30" y2="358.0" stroke="#333" stroke-width="0.6"/>
<text x="409.30" y="367.20" font-size="6.5" text-anchor="middle" fill="#262626">−0.2</text>
<line x1="436.90" y1="356.4" x2="436.90" y2="358.0" stroke="#333" stroke-width="0.6"/>
<text x="436.90" y="367.20" font-size="6.5" text-anchor="middle" fill="#262626">−0.1</text>
<line x1="464.50" y1="356.4" x2="464.50" y2="358.0" stroke="#333" stroke-width="0.6"/>
<text x="464.50" y="367.20" font-size="6.5" text-anchor="middle" fill="#262626">0.0</text>
<line x1="492.10" y1="356.4" x2="492.10" y2="358.0" stroke="#333" stroke-width="0.6"/>
<text x="492.10" y="367.20" font-size="6.5" text-anchor="middle" fill="#262626">0.1</text>
<line x1="382.0" y1="340.05" x2="383.6" y2="340.05" stroke="#333" stroke-width="0.6"/>
<text x="379.50" y="341.95" font-size="6.5" text-anchor="end" fill="#262626">−0.4</text>
<line x1="382.0" y1="315.65" x2="383.6" y2="315.65" stroke="#333" stroke-width="0.6"/>
<text x="379.50" y="317.55" font-size="6.5" text-anchor="end" fill="#262626">−0.2</text>
<line x1="382.0" y1="291.25" x2="383.6" y2="291.25" stroke="#333" stroke-width="0.6"/>
<text x="379.50" y="293.15" font-size="6.5" text-anchor="end" fill="#262626">0.0</text>
<line x1="382.0" y1="266.85" x2="383.6" y2="266.85" stroke="#333" stroke-width="0.6"/>
<text x="379.50" y="268.75" font-size="6.5" text-anchor="end" fill="#262626">0.2</text>
<text x="451.55" y="376.80" font-size="7.3" text-anchor="middle" fill="#1a1a1a">eGalT</text>
<text transform="translate(359.7,311.50) rotate(-90)" font-size="7.3" text-anchor="middle" fill="#1a1a1a">eGR</text>
<text x="383.5" y="260.5" font-size="7.85" font-weight="bold" fill="#000" textLength="38.2" lengthAdjust="spacingAndGlyphs">Cetuximab</text>
<text x="387.85" y="277.3" font-size="6.75" fill="#1a1a1a"><tspan dx="1.2" dy="-1.1">ρ</tspan><tspan dx="-0.5" dy="1.1"> = 0.97, </tspan><tspan font-style="italic">P</tspan> &lt; 2.2e−16</text>
<clipPath id="pSorafenib"><rect x="32.05" y="397.7" width="136.05" height="90.15000000000003"/></clipPath>
<g clip-path="url(#pSorafenib)">
<line x1="38.45" y1="397.7" x2="38.45" y2="487.85" stroke="#F4F4F4" stroke-width="0.6"/>
<line x1="66.55" y1="397.7" x2="66.55" y2="487.85" stroke="#F4F4F4" stroke-width="0.6"/>
<line x1="94.65" y1="397.7" x2="94.65" y2="487.85" stroke="#F4F4F4" stroke-width="0.6"/>
<line x1="122.75" y1="397.7" x2="122.75" y2="487.85" stroke="#F4F4F4" stroke-width="0.6"/>
<line x1="150.85" y1="397.7" x2="150.85" y2="487.85" stroke="#F4F4F4" stroke-width="0.6"/>
<line x1="32.05" y1="483.94" x2="168.1" y2="483.94" stroke="#F4F4F4" stroke-width="0.6"/>
<line x1="32.05" y1="465.26" x2="168.1" y2="465.26" stroke="#F4F4F4" stroke-width="0.6"/>
<line x1="32.05" y1="446.59" x2="168.1" y2="446.59" stroke="#F4F4F4" stroke-width="0.6"/>
<line x1="32.05" y1="427.91" x2="168.1" y2="427.91" stroke="#F4F4F4" stroke-width="0.6"/>
<line x1="32.05" y1="409.24" x2="168.1" y2="409.24" stroke="#F4F4F4" stroke-width="0.6"/>
<line x1="52.50" y1="397.7" x2="52.50" y2="487.85" stroke="#EBEBEB" stroke-width="0.9"/>
<line x1="80.60" y1="397.7" x2="80.60" y2="487.85" stroke="#EBEBEB" stroke-width="0.9"/>
<line x1="108.70" y1="397.7" x2="108.70" y2="487.85" stroke="#EBEBEB" stroke-width="0.9"/>
<line x1="136.80" y1="397.7" x2="136.80" y2="487.85" stroke="#EBEBEB" stroke-width="0.9"/>
<line x1="164.90" y1="397.7" x2="164.90" y2="487.85" stroke="#EBEBEB" stroke-width="0.9"/>
<line x1="32.05" y1="474.60" x2="168.1" y2="474.60" stroke="#EBEBEB" stroke-width="0.9"/>
<line x1="32.05" y1="455.93" x2="168.1" y2="455.93" stroke="#EBEBEB" stroke-width="0.9"/>
<line x1="32.05" y1="437.25" x2="168.1" y2="437.25" stroke="#EBEBEB" stroke-width="0.9"/>
<line x1="32.05" y1="418.58" x2="168.1" y2="418.58" stroke="#EBEBEB" stroke-width="0.9"/>
<line x1="32.05" y1="399.90" x2="168.1" y2="399.90" stroke="#EBEBEB" stroke-width="0.9"/>
<line x1="27.049999999999997" y1="491.51" x2="173.1" y2="394.45" stroke="#F47A70" stroke-width="0.95"/>
<circle cx="38.00" cy="484.10" r="1.35" fill="#000"/>
<circle cx="51.20" cy="472.60" r="1.35" fill="#000"/>
<circle cx="55.70" cy="467.30" r="1.35" fill="#000"/>
<circle cx="62.70" cy="468.70" r="1.35" fill="#000"/>
<circle cx="64.00" cy="474.30" r="1.35" fill="#000"/>
<circle cx="69.80" cy="464.60" r="1.35" fill="#000"/>
<circle cx="72.50" cy="466.90" r="1.35" fill="#000"/>
<circle cx="72.50" cy="461.10" r="1.35" fill="#000"/>
<circle cx="73.40" cy="459.30" r="1.35" fill="#000"/>
<circle cx="72.50" cy="456.30" r="1.35" fill="#000"/>
<circle cx="74.20" cy="457.50" r="1.35" fill="#000"/>
<circle cx="75.70" cy="456.60" r="1.35" fill="#000"/>
<circle cx="76.90" cy="458.00" r="1.35" fill="#000"/>
<circle cx="77.80" cy="455.80" r="1.35" fill="#000"/>
<circle cx="79.60" cy="454.50" r="1.35" fill="#000"/>
<circle cx="81.30" cy="452.70" r="1.35" fill="#000"/>
<circle cx="82.20" cy="454.90" r="1.35" fill="#000"/>
<circle cx="84.00" cy="453.10" r="1.35" fill="#000"/>
<circle cx="86.60" cy="451.30" r="1.35" fill="#000"/>
<circle cx="87.50" cy="452.70" r="1.35" fill="#000"/>
<circle cx="92.00" cy="448.70" r="1.35" fill="#000"/>
<circle cx="92.80" cy="446.40" r="1.35" fill="#000"/>
<circle cx="94.60" cy="445.70" r="1.35" fill="#000"/>
<circle cx="96.40" cy="445.10" r="1.35" fill="#000"/>
<circle cx="97.30" cy="443.90" r="1.35" fill="#000"/>
<circle cx="99.00" cy="447.40" r="1.35" fill="#000"/>
<circle cx="99.90" cy="442.50" r="1.35" fill="#000"/>
<circle cx="144.80" cy="401.60" r="1.35" fill="#000"/>
<circle cx="159.20" cy="404.20" r="1.35" fill="#000"/>
<circle cx="162.10" cy="402.00" r="1.35" fill="#000"/>
<circle cx="134.70" cy="413.20" r="1.35" fill="#000"/>
<circle cx="138.00" cy="411.70" r="1.35" fill="#000"/>
<circle cx="139.40" cy="410.30" r="1.35" fill="#000"/>
<circle cx="142.90" cy="412.40" r="1.35" fill="#000"/>
<circle cx="136.10" cy="419.40" r="1.35" fill="#000"/>
<circle cx="117.40" cy="424.00" r="1.35" fill="#000"/>
<circle cx="123.10" cy="425.40" r="1.35" fill="#000"/>
<circle cx="123.90" cy="426.10" r="1.35" fill="#000"/>
<circle cx="126.00" cy="429.00" r="1.35" fill="#000"/>
<circle cx="113.50" cy="429.00" r="1.35" fill="#000"/>
<circle cx="114.50" cy="433.40" r="1.35" fill="#000"/>
<circle cx="115.20" cy="437.20" r="1.35" fill="#000"/>
<circle cx="111.60" cy="435.50" r="1.35" fill="#000"/>
<circle cx="105.80" cy="435.20" r="1.35" fill="#000"/>
<circle cx="108.00" cy="437.20" r="1.35" fill="#000"/>
<circle cx="107.30" cy="441.00" r="1.35" fill="#000"/>
<circle cx="102.90" cy="439.10" r="1.35" fill="#000"/>
<circle cx="103.70" cy="440.60" r="1.35" fill="#000"/>
<circle cx="102.20" cy="438.40" r="1.35" fill="#000"/>
<circle cx="102.90" cy="444.20" r="1.35" fill="#000"/>
<circle cx="104.40" cy="443.90" r="1.35" fill="#000"/>
<circle cx="97.90" cy="443.90" r="1.35" fill="#000"/>
<circle cx="96.40" cy="444.90" r="1.35" fill="#000"/>
<circle cx="99.00" cy="447.80" r="1.35" fill="#000"/>
</g>
<rect x="32.05" y="397.7" width="136.05" height="90.15000000000003" fill="none" stroke="#939393" stroke-width="1.05"/>
<line x1="52.50" y1="487.85" x2="52.50" y2="489.45000000000005" stroke="#333" stroke-width="0.6"/>
<text x="52.50" y="497.55" font-size="5.8" text-anchor="middle" fill="#262626">0.00</text>
<line x1="80.60" y1="487.85" x2="80.60" y2="489.45000000000005" stroke="#333" stroke-width="0.6"/>
<text x="80.60" y="497.55" font-size="5.8" text-anchor="middle" fill="#262626">0.05</text>
<line x1="108.70" y1="487.85" x2="108.70" y2="489.45000000000005" stroke="#333" stroke-width="0.6"/>
<text x="108.70" y="497.55" font-size="5.8" text-anchor="middle" fill="#262626">0.10</text>
<line x1="136.80" y1="487.85" x2="136.80" y2="489.45000000000005" stroke="#333" stroke-width="0.6"/>
<text x="136.80" y="497.55" font-size="5.8" text-anchor="middle" fill="#262626">0.15</text>
<line x1="164.90" y1="487.85" x2="164.90" y2="489.45000000000005" stroke="#333" stroke-width="0.6"/>
<text x="164.90" y="497.55" font-size="5.8" text-anchor="middle" fill="#262626">0.20</text>
<line x1="30.449999999999996" y1="474.60" x2="32.05" y2="474.60" stroke="#333" stroke-width="0.6"/>
<text x="27.60" y="476.50" font-size="6.5" text-anchor="end" fill="#262626">0.00</text>
<line x1="30.449999999999996" y1="455.93" x2="32.05" y2="455.93" stroke="#333" stroke-width="0.6"/>
<text x="27.60" y="457.82" font-size="6.5" text-anchor="end" fill="#262626">0.05</text>
<line x1="30.449999999999996" y1="437.25" x2="32.05" y2="437.25" stroke="#333" stroke-width="0.6"/>
<text x="27.60" y="439.15" font-size="6.5" text-anchor="end" fill="#262626">0.10</text>
<line x1="30.449999999999996" y1="418.58" x2="32.05" y2="418.58" stroke="#333" stroke-width="0.6"/>
<text x="27.60" y="420.48" font-size="6.5" text-anchor="end" fill="#262626">0.15</text>
<line x1="30.449999999999996" y1="399.90" x2="32.05" y2="399.90" stroke="#333" stroke-width="0.6"/>
<text x="27.60" y="401.80" font-size="6.5" text-anchor="end" fill="#262626">0.20</text>
<text x="100.07" y="507.75" font-size="7.3" text-anchor="middle" fill="#1a1a1a">eGalT</text>
<text transform="translate(8.5,442.77) rotate(-90)" font-size="7.3" text-anchor="middle" fill="#1a1a1a">eGR</text>
<text x="31.949999999999996" y="390.8" font-size="7.85" font-weight="bold" fill="#000">Sorafenib</text>
<text x="36.3" y="407.9" font-size="6.75" fill="#1a1a1a"><tspan dx="1.2" dy="-1.1">ρ</tspan><tspan dx="-0.5" dy="1.1"> = 0.99, </tspan><tspan font-style="italic">P</tspan> &lt; 2.2e−16</text>
<clipPath id="pPaclitaxel"><rect x="206.7" y="396.5" width="135.60000000000002" height="91.35000000000002"/></clipPath>
<g clip-path="url(#pPaclitaxel)">
<line x1="222.65" y1="396.5" x2="222.65" y2="487.85" stroke="#F4F4F4" stroke-width="0.6"/>
<line x1="252.55" y1="396.5" x2="252.55" y2="487.85" stroke="#F4F4F4" stroke-width="0.6"/>
<line x1="282.45" y1="396.5" x2="282.45" y2="487.85" stroke="#F4F4F4" stroke-width="0.6"/>
<line x1="312.35" y1="396.5" x2="312.35" y2="487.85" stroke="#F4F4F4" stroke-width="0.6"/>
<line x1="342.25" y1="396.5" x2="342.25" y2="487.85" stroke="#F4F4F4" stroke-width="0.6"/>
<line x1="206.7" y1="476.25" x2="342.3" y2="476.25" stroke="#F4F4F4" stroke-width="0.6"/>
<line x1="206.7" y1="458.75" x2="342.3" y2="458.75" stroke="#F4F4F4" stroke-width="0.6"/>
<line x1="206.7" y1="441.25" x2="342.3" y2="441.25" stroke="#F4F4F4" stroke-width="0.6"/>
<line x1="206.7" y1="423.75" x2="342.3" y2="423.75" stroke="#F4F4F4" stroke-width="0.6"/>
<line x1="206.7" y1="406.25" x2="342.3" y2="406.25" stroke="#F4F4F4" stroke-width="0.6"/>
<line x1="207.70" y1="396.5" x2="207.70" y2="487.85" stroke="#EBEBEB" stroke-width="0.9"/>
<line x1="237.60" y1="396.5" x2="237.60" y2="487.85" stroke="#EBEBEB" stroke-width="0.9"/>
<line x1="267.50" y1="396.5" x2="267.50" y2="487.85" stroke="#EBEBEB" stroke-width="0.9"/>
<line x1="297.40" y1="396.5" x2="297.40" y2="487.85" stroke="#EBEBEB" stroke-width="0.9"/>
<line x1="327.30" y1="396.5" x2="327.30" y2="487.85" stroke="#EBEBEB" stroke-width="0.9"/>
<line x1="206.7" y1="485.00" x2="342.3" y2="485.00" stroke="#EBEBEB" stroke-width="0.9"/>
<line x1="206.7" y1="467.50" x2="342.3" y2="467.50" stroke="#EBEBEB" stroke-width="0.9"/>
<line x1="206.7" y1="450.00" x2="342.3" y2="450.00" stroke="#EBEBEB" stroke-width="0.9"/>
<line x1="206.7" y1="432.50" x2="342.3" y2="432.50" stroke="#EBEBEB" stroke-width="0.9"/>
<line x1="206.7" y1="415.00" x2="342.3" y2="415.00" stroke="#EBEBEB" stroke-width="0.9"/>
<line x1="206.7" y1="397.50" x2="342.3" y2="397.50" stroke="#EBEBEB" stroke-width="0.9"/>
<line x1="201.7" y1="488.51" x2="347.3" y2="403.29" stroke="#F47A70" stroke-width="0.95"/>
<circle cx="212.40" cy="481.10" r="1.35" fill="#000"/>
<circle cx="212.40" cy="484.50" r="1.35" fill="#000"/>
<circle cx="223.80" cy="478.00" r="1.35" fill="#000"/>
<circle cx="233.30" cy="469.30" r="1.35" fill="#000"/>
<circle cx="234.60" cy="468.40" r="1.35" fill="#000"/>
<circle cx="235.70" cy="466.30" r="1.35" fill="#000"/>
<circle cx="237.30" cy="467.70" r="1.35" fill="#000"/>
<circle cx="238.40" cy="470.60" r="1.35" fill="#000"/>
<circle cx="240.70" cy="463.00" r="1.35" fill="#000"/>
<circle cx="242.00" cy="462.30" r="1.35" fill="#000"/>
<circle cx="243.40" cy="464.30" r="1.35" fill="#000"/>
<circle cx="244.00" cy="462.30" r="1.35" fill="#000"/>
<circle cx="244.70" cy="458.90" r="1.35" fill="#000"/>
<circle cx="240.70" cy="454.50" r="1.35" fill="#000"/>
<circle cx="251.80" cy="450.90" r="1.35" fill="#000"/>
<circle cx="251.80" cy="458.90" r="1.35" fill="#000"/>
<circle cx="254.50" cy="456.20" r="1.35" fill="#000"/>
<circle cx="256.10" cy="454.90" r="1.35" fill="#000"/>
<circle cx="257.50" cy="458.90" r="1.35" fill="#000"/>
<circle cx="258.20" cy="454.00" r="1.35" fill="#000"/>
<circle cx="258.80" cy="455.60" r="1.35" fill="#000"/>
<circle cx="259.90" cy="452.20" r="1.35" fill="#000"/>
<circle cx="261.50" cy="454.20" r="1.35" fill="#000"/>
<circle cx="262.90" cy="454.00" r="1.35" fill="#000"/>
<circle cx="264.20" cy="450.20" r="1.35" fill="#000"/>
<circle cx="265.60" cy="448.80" r="1.35" fill="#000"/>
<circle cx="266.20" cy="450.90" r="1.35" fill="#000"/>
<circle cx="266.90" cy="454.20" r="1.35" fill="#000"/>
<circle cx="267.60" cy="447.50" r="1.35" fill="#000"/>
<circle cx="268.30" cy="449.50" r="1.35" fill="#000"/>
<circle cx="269.60" cy="446.80" r="1.35" fill="#000"/>
<circle cx="270.90" cy="446.20" r="1.35" fill="#000"/>
<circle cx="272.30" cy="451.50" r="1.35" fill="#000"/>
<circle cx="272.30" cy="444.80" r="1.35" fill="#000"/>
<circle cx="273.60" cy="443.50" r="1.35" fill="#000"/>
<circle cx="336.10" cy="400.40" r="1.35" fill="#000"/>
<circle cx="322.20" cy="410.70" r="1.35" fill="#000"/>
<circle cx="323.20" cy="412.20" r="1.35" fill="#000"/>
<circle cx="324.20" cy="413.80" r="1.35" fill="#000"/>
<circle cx="306.20" cy="417.80" r="1.35" fill="#000"/>
<circle cx="306.80" cy="422.70" r="1.35" fill="#000"/>
<circle cx="307.80" cy="424.50" r="1.35" fill="#000"/>
<circle cx="308.80" cy="426.50" r="1.35" fill="#000"/>
<circle cx="310.40" cy="427.60" r="1.35" fill="#000"/>
<circle cx="311.90" cy="425.80" r="1.35" fill="#000"/>
<circle cx="305.80" cy="426.50" r="1.35" fill="#000"/>
<circle cx="302.70" cy="429.20" r="1.35" fill="#000"/>
<circle cx="301.20" cy="430.70" r="1.35" fill="#000"/>
<circle cx="299.60" cy="431.20" r="1.35" fill="#000"/>
<circle cx="298.10" cy="431.60" r="1.35" fill="#000"/>
<circle cx="296.50" cy="432.70" r="1.35" fill="#000"/>
<circle cx="295.00" cy="431.90" r="1.35" fill="#000"/>
<circle cx="293.50" cy="433.20" r="1.35" fill="#000"/>
<circle cx="291.90" cy="434.20" r="1.35" fill="#000"/>
<circle cx="291.50" cy="431.90" r="1.35" fill="#000"/>
<circle cx="292.70" cy="435.80" r="1.35" fill="#000"/>
<circle cx="285.00" cy="432.70" r="1.35" fill="#000"/>
<circle cx="284.20" cy="435.30" r="1.35" fill="#000"/>
<circle cx="286.50" cy="436.50" r="1.35" fill="#000"/>
<circle cx="283.50" cy="438.10" r="1.35" fill="#000"/>
<circle cx="281.90" cy="439.60" r="1.35" fill="#000"/>
<circle cx="280.40" cy="437.30" r="1.35" fill="#000"/>
<circle cx="288.10" cy="445.00" r="1.35" fill="#000"/>
<circle cx="285.80" cy="441.20" r="1.35" fill="#000"/>
<circle cx="279.60" cy="441.20" r="1.35" fill="#000"/>
<circle cx="278.10" cy="442.70" r="1.35" fill="#000"/>
<circle cx="276.50" cy="441.20" r="1.35" fill="#000"/>
<circle cx="275.80" cy="444.20" r="1.35" fill="#000"/>
<circle cx="274.20" cy="445.80" r="1.35" fill="#000"/>
<circle cx="272.70" cy="444.20" r="1.35" fill="#000"/>
<circle cx="271.20" cy="447.30" r="1.35" fill="#000"/>
<circle cx="268.10" cy="448.10" r="1.35" fill="#000"/>
<circle cx="266.50" cy="448.80" r="1.35" fill="#000"/>
<circle cx="271.90" cy="452.70" r="1.35" fill="#000"/>
<circle cx="283.85" cy="435.38" r="1.35" fill="#000"/>
<circle cx="282.88" cy="436.83" r="1.35" fill="#000"/>
<circle cx="280.96" cy="439.71" r="1.35" fill="#000"/>
<circle cx="278.08" cy="438.27" r="1.35" fill="#000"/>
<circle cx="276.63" cy="440.67" r="1.35" fill="#000"/>
<circle cx="275.19" cy="442.12" r="1.35" fill="#000"/>
<circle cx="274.23" cy="444.04" r="1.35" fill="#000"/>
<circle cx="273.75" cy="445.96" r="1.35" fill="#000"/>
<circle cx="272.31" cy="446.44" r="1.35" fill="#000"/>
<circle cx="270.87" cy="445.00" r="1.35" fill="#000"/>
<circle cx="269.42" cy="447.40" r="1.35" fill="#000"/>
<circle cx="267.50" cy="448.85" r="1.35" fill="#000"/>
<circle cx="265.58" cy="449.81" r="1.35" fill="#000"/>
<circle cx="264.62" cy="450.77" r="1.35" fill="#000"/>
<circle cx="272.31" cy="450.77" r="1.35" fill="#000"/>
<circle cx="273.27" cy="453.65" r="1.35" fill="#000"/>
<circle cx="277.12" cy="448.37" r="1.35" fill="#000"/>
<circle cx="285.77" cy="440.19" r="1.35" fill="#000"/>
<circle cx="286.73" cy="442.60" r="1.35" fill="#000"/>
<circle cx="288.65" cy="435.38" r="1.35" fill="#000"/>
<circle cx="288.17" cy="437.31" r="1.35" fill="#000"/>
<circle cx="291.54" cy="431.06" r="1.35" fill="#000"/>
<circle cx="292.98" cy="433.46" r="1.35" fill="#000"/>
<circle cx="293.46" cy="436.35" r="1.35" fill="#000"/>
<circle cx="295.38" cy="432.50" r="1.35" fill="#000"/>
<circle cx="297.31" cy="431.54" r="1.35" fill="#000"/>
<circle cx="299.23" cy="431.06" r="1.35" fill="#000"/>
<circle cx="301.15" cy="430.10" r="1.35" fill="#000"/>
<circle cx="303.08" cy="429.13" r="1.35" fill="#000"/>
<circle cx="304.04" cy="425.29" r="1.35" fill="#000"/>
<circle cx="260.77" cy="452.69" r="1.35" fill="#000"/>
<circle cx="258.85" cy="454.62" r="1.35" fill="#000"/>
<circle cx="256.92" cy="456.06" r="1.35" fill="#000"/>
<circle cx="257.88" cy="458.46" r="1.35" fill="#000"/>
<circle cx="262.69" cy="452.69" r="1.35" fill="#000"/>
<circle cx="267.02" cy="453.65" r="1.35" fill="#000"/>
<circle cx="279.52" cy="440.67" r="1.35" fill="#000"/>
<circle cx="275.67" cy="439.71" r="1.35" fill="#000"/>
<circle cx="284.81" cy="433.46" r="1.35" fill="#000"/>
<circle cx="282.12" cy="438.27" r="1.35" fill="#000"/>
</g>
<rect x="206.7" y="396.5" width="135.60000000000002" height="91.35000000000002" fill="none" stroke="#939393" stroke-width="1.05"/>
<line x1="207.70" y1="487.85" x2="207.70" y2="489.45000000000005" stroke="#333" stroke-width="0.6"/>
<text x="207.70" y="497.55" font-size="5.8" text-anchor="middle" fill="#262626">−0.05</text>
<line x1="237.60" y1="487.85" x2="237.60" y2="489.45000000000005" stroke="#333" stroke-width="0.6"/>
<text x="237.60" y="497.55" font-size="5.8" text-anchor="middle" fill="#262626">0.00</text>
<line x1="267.50" y1="487.85" x2="267.50" y2="489.45000000000005" stroke="#333" stroke-width="0.6"/>
<text x="267.50" y="497.55" font-size="5.8" text-anchor="middle" fill="#262626">0.05</text>
<line x1="297.40" y1="487.85" x2="297.40" y2="489.45000000000005" stroke="#333" stroke-width="0.6"/>
<text x="297.40" y="497.55" font-size="5.8" text-anchor="middle" fill="#262626">0.10</text>
<line x1="327.30" y1="487.85" x2="327.30" y2="489.45000000000005" stroke="#333" stroke-width="0.6"/>
<text x="327.30" y="497.55" font-size="5.8" text-anchor="middle" fill="#262626">0.15</text>
<line x1="205.1" y1="485.00" x2="206.7" y2="485.00" stroke="#333" stroke-width="0.6"/>
<text x="202.50" y="486.90" font-size="6.5" text-anchor="end" fill="#262626">−0.05</text>
<line x1="205.1" y1="467.50" x2="206.7" y2="467.50" stroke="#333" stroke-width="0.6"/>
<text x="202.50" y="469.40" font-size="6.5" text-anchor="end" fill="#262626">0.00</text>
<line x1="205.1" y1="450.00" x2="206.7" y2="450.00" stroke="#333" stroke-width="0.6"/>
<text x="202.50" y="451.90" font-size="6.5" text-anchor="end" fill="#262626">0.05</text>
<line x1="205.1" y1="432.50" x2="206.7" y2="432.50" stroke="#333" stroke-width="0.6"/>
<text x="202.50" y="434.40" font-size="6.5" text-anchor="end" fill="#262626">0.10</text>
<line x1="205.1" y1="415.00" x2="206.7" y2="415.00" stroke="#333" stroke-width="0.6"/>
<text x="202.50" y="416.90" font-size="6.5" text-anchor="end" fill="#262626">0.15</text>
<line x1="205.1" y1="397.50" x2="206.7" y2="397.50" stroke="#333" stroke-width="0.6"/>
<text x="202.50" y="399.40" font-size="6.5" text-anchor="end" fill="#262626">0.20</text>
<text x="274.50" y="507.75" font-size="7.3" text-anchor="middle" fill="#1a1a1a">eGalT</text>
<text transform="translate(178.9,442.18) rotate(-90)" font-size="7.3" text-anchor="middle" fill="#1a1a1a">eGR</text>
<text x="206.6" y="390.7" font-size="7.85" font-weight="bold" fill="#000">Paclitaxel</text>
<text x="210.95" y="407.6" font-size="6.75" fill="#1a1a1a"><tspan dx="1.2" dy="-1.1">ρ</tspan><tspan dx="-0.5" dy="1.1"> = 0.98, </tspan><tspan font-style="italic">P</tspan> &lt; 2.2e−16</text>
</svg>
</body></html>
